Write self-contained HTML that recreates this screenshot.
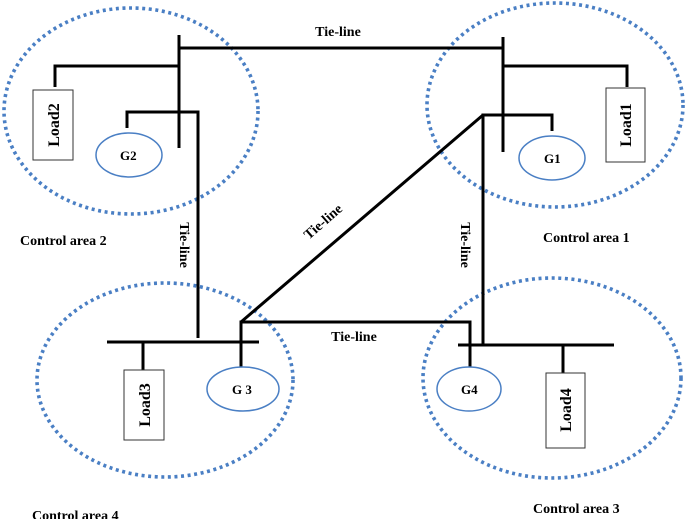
<!DOCTYPE html>
<html><head><meta charset="utf-8"><style>html,body{margin:0;padding:0;background:#fff}</style></head><body>
<svg width="685" height="519" viewBox="0 0 685 519" xmlns="http://www.w3.org/2000/svg" font-family="Liberation Serif, serif" font-weight="bold" font-size="14">
<g fill="none" stroke="#4a7fc4" stroke-width="3.6" stroke-dasharray="3 3.6">
<ellipse cx="131" cy="111" rx="127" ry="103"/>
<ellipse cx="555" cy="105" rx="128" ry="102"/>
<ellipse cx="165" cy="380" rx="128" ry="97"/>
<ellipse cx="552" cy="378" rx="129" ry="100"/>
</g>
<g stroke="#000" stroke-width="3" fill="none">
<line x1="179" y1="35" x2="179" y2="148"/>
<line x1="179" y1="48" x2="503" y2="48"/>
<line x1="503" y1="37" x2="503" y2="152"/>
<polyline points="55,87 55,66 179,66"/>
<polyline points="127,128 127,112 198,112 198,338"/>
<polyline points="503,66 627,66 627,87"/>
<polyline points="552,131 552,115 483,115 483,345"/>
<line x1="483" y1="115" x2="241" y2="322"/>
<line x1="107" y1="342" x2="259" y2="342"/>
<line x1="143" y1="342" x2="143" y2="370"/>
<polyline points="241,370 241,322 470,322 470,371"/>
<line x1="458" y1="345" x2="614" y2="345"/>
<line x1="563" y1="345" x2="563" y2="373"/>
</g>
<g fill="#fff" stroke="#333" stroke-width="1">
<rect x="33" y="90" width="40" height="70"/>
<rect x="606" y="88" width="39" height="74"/>
<rect x="124" y="370" width="40" height="70"/>
<rect x="546" y="373" width="39" height="75"/>
</g>
<g fill="#fff" stroke="#4a7fc4" stroke-width="1.5">
<ellipse cx="129" cy="155" rx="33" ry="22"/>
<ellipse cx="552" cy="158" rx="33" ry="22"/>
<ellipse cx="243" cy="389" rx="36" ry="22"/>
<ellipse cx="469" cy="389" rx="32" ry="22"/>
</g>
<g fill="#000">
<text x="120" y="160" font-size="13">G2</text>
<text x="544" y="163" font-size="13">G1</text>
<text x="232" y="394" font-size="13">G 3</text>
<text x="461" y="394" font-size="13">G4</text>
<text transform="translate(59,125) rotate(-90)" text-anchor="middle" font-size="16">Load2</text>
<text transform="translate(631,125) rotate(-90)" text-anchor="middle" font-size="16">Load1</text>
<text transform="translate(150,405) rotate(-90)" text-anchor="middle" font-size="16">Load3</text>
<text transform="translate(571,410) rotate(-90)" text-anchor="middle" font-size="16">Load4</text>
<text x="338" y="36" text-anchor="middle">Tie-line</text>
<text x="354" y="341" text-anchor="middle">Tie-line</text>
<text transform="translate(180,245) rotate(90)" text-anchor="middle">Tie-line</text>
<text transform="translate(461,245) rotate(90)" text-anchor="middle">Tie-line</text>
<text transform="translate(326,225) rotate(-41)" text-anchor="middle">Tie-line</text>
<text x="20" y="245">Control area 2</text>
<text x="543" y="242">Control area 1</text>
<text x="32" y="520">Control area 4</text>
<text x="533" y="513">Control area 3</text>
</g>
</svg>
</body></html>
